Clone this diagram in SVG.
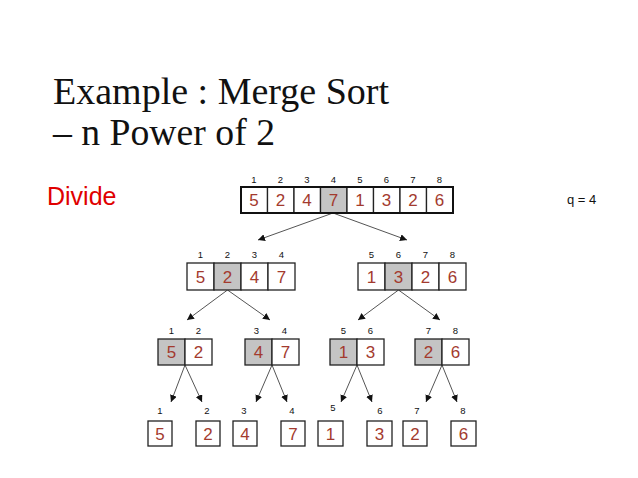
<svg xmlns="http://www.w3.org/2000/svg" width="638" height="478" viewBox="0 0 638 478">
<defs>
<style>
.cell{fill:#fff;stroke:#222;stroke-width:1.3}
.piv{fill:#c4c4c4;stroke:#222;stroke-width:1.3}
.num{font-family:"Liberation Sans",Arial,sans-serif;font-size:17px;fill:#a33a2e;text-anchor:middle}
.idx{font-family:"Liberation Sans",Arial,sans-serif;font-size:9.5px;fill:#111;text-anchor:middle}
.title{font-family:"Liberation Serif","Times New Roman",serif;font-size:37px;fill:#111}
.conn{stroke:#555;stroke-width:1;fill:none;marker-end:url(#ah)}
</style>
<marker id="ah" viewBox="0 0 10 10" refX="10" refY="5" markerWidth="7" markerHeight="7" markerUnits="userSpaceOnUse" orient="auto">
<path d="M0,0 L10,5 L0,10 z" fill="#111"/>
</marker>
</defs>
<rect width="638" height="478" fill="#fff"/>
<text class="title" x="53" y="104" textLength="336" lengthAdjust="spacingAndGlyphs">Example : Merge Sort</text>
<text class="title" x="53" y="145" textLength="222" lengthAdjust="spacingAndGlyphs">– n Power of 2</text>
<text x="47" y="205" font-family="Liberation Sans,Arial,sans-serif" font-size="25" fill="#e00000">Divide</text>
<text x="567" y="204" font-family="Liberation Sans,Arial,sans-serif" font-size="13" fill="#111">q = 4</text>

<g id="connectors">
<line class="conn" x1="333" y1="213" x2="258" y2="240"/>
<line class="conn" x1="333" y1="213" x2="407" y2="240"/>
<line class="conn" x1="227.5" y1="290" x2="187" y2="320"/>
<line class="conn" x1="227.5" y1="290" x2="270" y2="320"/>
<line class="conn" x1="398.5" y1="290" x2="358" y2="320"/>
<line class="conn" x1="398.5" y1="290" x2="440" y2="320"/>
<line class="conn" x1="185" y1="365" x2="171" y2="402"/>
<line class="conn" x1="185" y1="365" x2="202" y2="402"/>
<line class="conn" x1="272" y1="365" x2="256" y2="402"/>
<line class="conn" x1="272" y1="365" x2="287" y2="402"/>
<line class="conn" x1="357" y1="365" x2="341" y2="402"/>
<line class="conn" x1="357" y1="365" x2="372" y2="402"/>
<line class="conn" x1="442" y1="365" x2="426" y2="402"/>
<line class="conn" x1="442" y1="365" x2="457" y2="402"/>
</g>

<g id="node-top">
<rect class="cell" x="241" y="187" width="26.5" height="26"/>
<rect class="cell" x="267.5" y="187" width="26.5" height="26"/>
<rect class="cell" x="294" y="187" width="26.5" height="26"/>
<rect class="piv" x="320.5" y="187" width="26.5" height="26"/>
<rect class="cell" x="347" y="187" width="26.5" height="26"/>
<rect class="cell" x="373.5" y="187" width="26.5" height="26"/>
<rect class="cell" x="400" y="187" width="26.5" height="26"/>
<rect class="cell" x="426.5" y="187" width="26.5" height="26"/>
<rect x="241" y="187" width="212" height="26" fill="none" stroke="#111" stroke-width="2"/>
<text class="num" x="254" y="206">5</text><text class="num" x="280.5" y="206">2</text><text class="num" x="307" y="206">4</text><text class="num" x="333.5" y="206">7</text><text class="num" x="360" y="206">1</text><text class="num" x="386.5" y="206">3</text><text class="num" x="413" y="206">2</text><text class="num" x="439.5" y="206">6</text>
<text class="idx" x="254" y="183">1</text><text class="idx" x="280.5" y="183">2</text><text class="idx" x="307" y="183">3</text><text class="idx" x="333.5" y="183">4</text><text class="idx" x="360" y="183">5</text><text class="idx" x="386.5" y="183">6</text><text class="idx" x="413" y="183">7</text><text class="idx" x="439.5" y="183">8</text>
</g>

<g id="node-left4">
<rect class="cell" x="187" y="263" width="27" height="27"/>
<rect class="piv" x="214" y="263" width="27" height="27"/>
<rect class="cell" x="241" y="263" width="27" height="27"/>
<rect class="cell" x="268" y="263" width="27" height="27"/>
<text class="num" x="200.5" y="282.5">5</text><text class="num" x="227.5" y="282.5">2</text><text class="num" x="254.5" y="282.5">4</text><text class="num" x="281.5" y="282.5">7</text>
<text class="idx" x="200.5" y="258">1</text><text class="idx" x="227.5" y="258">2</text><text class="idx" x="254.5" y="258">3</text><text class="idx" x="281.5" y="258">4</text>
</g>

<g id="node-right4">
<rect class="cell" x="358" y="263" width="27" height="27"/>
<rect class="piv" x="385" y="263" width="27" height="27"/>
<rect class="cell" x="412" y="263" width="27" height="27"/>
<rect class="cell" x="439" y="263" width="27" height="27"/>
<text class="num" x="371.5" y="282.5">1</text><text class="num" x="398.5" y="282.5">3</text><text class="num" x="425.5" y="282.5">2</text><text class="num" x="452.5" y="282.5">6</text>
<text class="idx" x="371.5" y="258">5</text><text class="idx" x="398.5" y="258">6</text><text class="idx" x="425.5" y="258">7</text><text class="idx" x="452.5" y="258">8</text>
</g>

<g id="node-pair1">
<rect class="piv" x="158" y="339" width="27" height="26"/><rect class="cell" x="185" y="339" width="27" height="26"/>
<text class="num" x="171.5" y="358">5</text><text class="num" x="198.5" y="358">2</text>
<text class="idx" x="171.5" y="334">1</text><text class="idx" x="198.5" y="334">2</text>
</g>
<g id="node-pair2">
<rect class="piv" x="245" y="339" width="27" height="26"/><rect class="cell" x="272" y="339" width="27" height="26"/>
<text class="num" x="258.5" y="358">4</text><text class="num" x="285.5" y="358">7</text>
<text class="idx" x="256.5" y="334">3</text><text class="idx" x="284.5" y="334">4</text>
</g>
<g id="node-pair3">
<rect class="piv" x="330" y="339" width="27" height="26"/><rect class="cell" x="357" y="339" width="27" height="26"/>
<text class="num" x="343.5" y="358">1</text><text class="num" x="370.5" y="358">3</text>
<text class="idx" x="343.5" y="334">5</text><text class="idx" x="370.5" y="334">6</text>
</g>
<g id="node-pair4">
<rect class="piv" x="415" y="339" width="27" height="26"/><rect class="cell" x="442" y="339" width="27" height="26"/>
<text class="num" x="428.5" y="358">2</text><text class="num" x="455.5" y="358">6</text>
<text class="idx" x="428.5" y="334">7</text><text class="idx" x="455.5" y="334">8</text>
</g>

<g id="node-leaf1"><rect class="cell" x="148" y="421" width="24" height="25"/><text class="num" x="160" y="439.5">5</text><text class="idx" x="160" y="414">1</text></g>
<g id="node-leaf2"><rect class="cell" x="196" y="421" width="24" height="25"/><text class="num" x="208" y="439.5">2</text><text class="idx" x="207" y="414">2</text></g>
<g id="node-leaf3"><rect class="cell" x="233" y="421" width="24" height="25"/><text class="num" x="245" y="439.5">4</text><text class="idx" x="244" y="414">3</text></g>
<g id="node-leaf4"><rect class="cell" x="281" y="421" width="24" height="25"/><text class="num" x="293" y="439.5">7</text><text class="idx" x="292" y="414">4</text></g>
<g id="node-leaf5"><rect class="cell" x="318" y="421" width="25" height="25"/><text class="num" x="330.5" y="439.5">1</text><text class="idx" x="333" y="411">5</text></g>
<g id="node-leaf6"><rect class="cell" x="367" y="421" width="25" height="25"/><text class="num" x="379.5" y="439.5">3</text><text class="idx" x="380" y="414">6</text></g>
<g id="node-leaf7"><rect class="cell" x="403" y="421" width="24" height="25"/><text class="num" x="415" y="439.5">2</text><text class="idx" x="417" y="414">7</text></g>
<g id="node-leaf8"><rect class="cell" x="451" y="421" width="25" height="25"/><text class="num" x="463.5" y="439.5">6</text><text class="idx" x="463" y="414">8</text></g>
</svg>
